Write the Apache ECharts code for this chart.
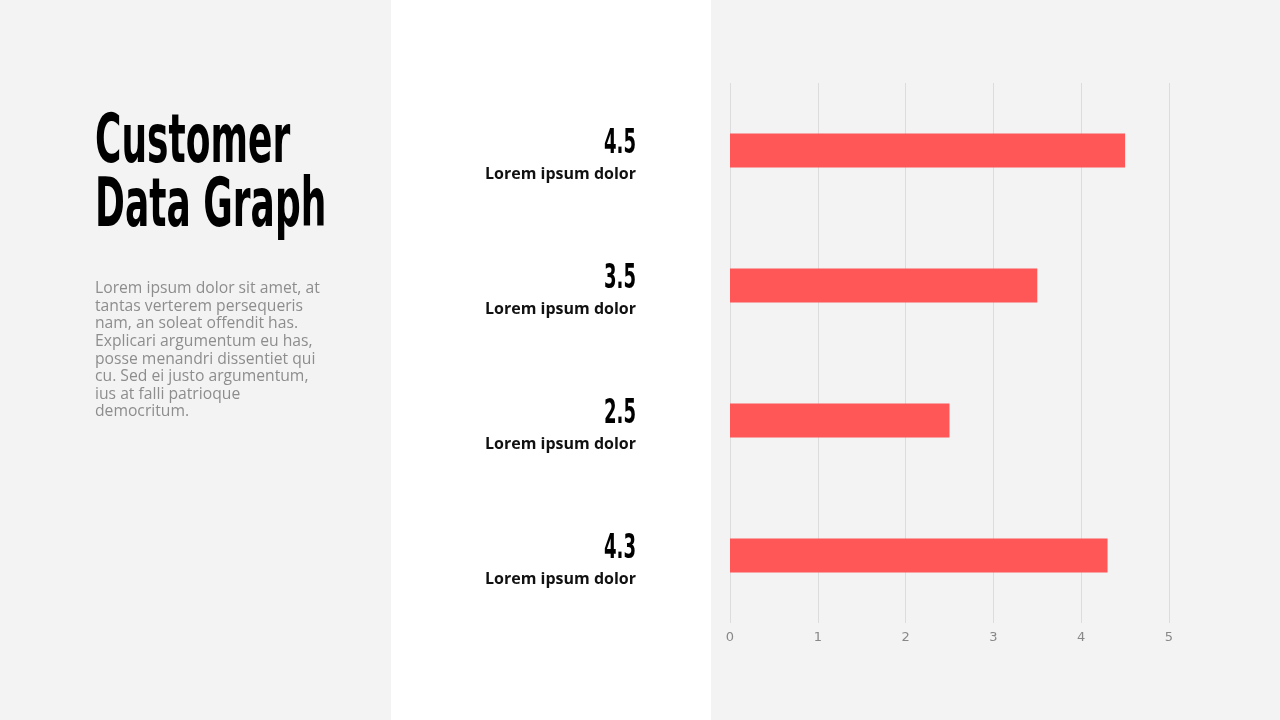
<!DOCTYPE html>
<html>
<head>
<meta charset="utf-8">
<script src="https://cdn.jsdelivr.net/npm/echarts@6/dist/echarts.min.js"></script>
<style>
  html, body { margin: 0; padding: 0; }
  #chart { width: 1280px; height: 720px; }
</style>
</head>
<body>
<div id="chart"></div>
<script>
// data
var categories = ['Lorem ipsum dolor', 'Lorem ipsum dolor', 'Lorem ipsum dolor', 'Lorem ipsum dolor'];
var values = [4.5, 3.5, 2.5, 4.3];
var xTicks = [0, 1, 2, 3, 4, 5];
var titleText = 'Customer\nData Graph';
var bodyText = 'Lorem ipsum dolor sit amet, at\ntantas verterem persequeris\nnam, an soleat offendit has.\nExplicari argumentum eu has,\nposse menandri dissentiet qui\ncu. Sed ei justo argumentum,\nius at falli patrioque\ndemocritum.';

var narrow = '"Liberation Sans Narrow", "DejaVu Sans Condensed", "Roboto", sans-serif';

var chart = echarts.init(document.getElementById('chart'));

var baseGraphic = [
    {
        type: 'rect',
        id: 'panel',
        z: -10,
        shape: { x: 391, y: 0, width: 320, height: 720 },
        style: { fill: '#ffffff' }
    },
    {
        type: 'text',
        id: 'title',
        left: 95,
        top: 111,
        scaleX: 0.77,
        scaleY: 1.3,
        style: {
            text: titleText,
            fill: '#000',
            font: 'bold 52px ' + narrow,
            lineHeight: 49
        }
    },
    {
        type: 'text',
        id: 'body',
        left: 95,
        top: 280,
        style: {
            text: bodyText,
            fill: '#8d8d8d',
            font: '15.7px "Open Sans", sans-serif',
            lineHeight: 17.6
        }
    }
];

var option = {
    backgroundColor: '#f3f3f3',
    animation: false,
    graphic: baseGraphic,
    grid: {
        left: 730,
        right: 111,
        top: 83,
        bottom: 97
    },
    xAxis: {
        type: 'value',
        min: 0,
        max: 5,
        interval: 1,
        axisLine: { show: false },
        axisTick: { show: false },
        splitLine: { lineStyle: { color: '#dcdcdc', width: 1 } },
        axisLabel: {
            color: '#888',
            fontSize: 13,
            fontFamily: 'DejaVu Sans',
            margin: 8,
            formatter: function (v) { return xTicks.indexOf(v) >= 0 ? String(v) : ''; }
        }
    },
    yAxis: {
        type: 'category',
        inverse: true,
        data: categories,
        axisLine: { show: false },
        axisTick: { show: false },
        splitLine: { show: false },
        axisLabel: { show: false }
    },
    series: [{
        type: 'bar',
        data: values,
        barWidth: 34,
        itemStyle: { color: '#ff5757' }
    }]
};
chart.setOption(option);

// value number + category name beside each bar, placed with the category scale
var sideLabels = [];
categories.forEach(function (name, i) {
    var cy = chart.convertToPixel({ yAxisIndex: 0 }, i);
    sideLabels.push({
        type: 'text',
        id: 'val' + i,
        x: 636,
        y: cy - 6,
        scaleX: 0.67,
        scaleY: 1.1,
        style: {
            text: String(values[i]),
            fill: '#000',
            font: 'bold 30px ' + narrow,
            textAlign: 'right',
            textVerticalAlign: 'middle'
        }
    });
    sideLabels.push({
        type: 'text',
        id: 'name' + i,
        x: 636,
        y: cy + 24,
        style: {
            text: name,
            fill: '#111',
            font: 'bold 16px "Open Sans", sans-serif',
            textAlign: 'right',
            textVerticalAlign: 'middle'
        }
    });
});
chart.setOption({ graphic: baseGraphic.concat(sideLabels) });
</script>
</body>
</html>
